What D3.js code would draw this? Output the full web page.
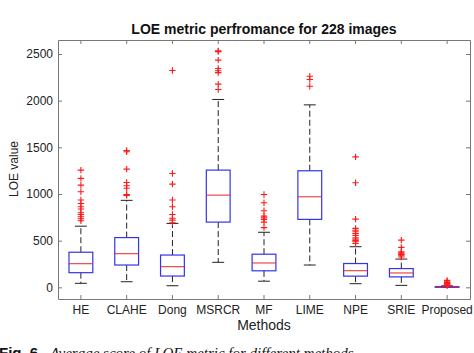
<!DOCTYPE html>
<html>
<head>
<meta charset="utf-8">
<script src="https://cdn.jsdelivr.net/npm/d3@7"></script>
<style>
  body { margin: 0; background: #fff; }
  svg { display: block; }
</style>
</head>
<body>
<div id="wrapper"></div>
<script>
// Box statistics
const methods = ["HE", "CLAHE", "Dong", "MSRCR", "MF", "LIME", "NPE", "SRIE", "Proposed"]
const whiskerLow  = [43, 60, 17, 268, 66, 239, 39, 21, 0]
const q1Values    = [157, 239, 121, 699, 177, 728, 120, 112, 0]
const medians     = [253, 360, 221, 988, 261, 970, 178, 154, 3]
const q3Values    = [376, 533, 346, 1256, 355, 1249, 255, 201, 7]
const whiskerHigh = [655, 932, 685, 2013, 590, 1955, 435, 303, 16]
const outliers = [
    [1256, 1167, 1095, 1024, 935, 899, 863, 840, 799, 780, 756, 735, 713],
    [1466, 1452, 1267, 1124, 1088, 1062, 995, 985],
    [2323, 1220, 1106, 935, 863, 781, 740, 720, 692],
    [2533, 2525, 2434, 2345, 2320, 2300, 2177, 2120],
    [995, 906, 820, 763, 745, 728, 699, 640],
    [2262, 2227, 2155],
    [1398, 1120, 731, 632, 612, 596, 575, 555, 530, 515, 500, 488, 470],
    [506, 428, 381, 370, 360, 350, 338, 325],
    [75, 60, 50, 42, 35, 28, 22, 18]
]
const yTicks = [0, 500, 1000, 1500, 2000, 2500]

const dimensions = {
    width: 474,
    height: 353,
    margin: { top: 40, right: 4, bottom: 54, left: 58 },
}
dimensions.boundedWidth = dimensions.width - dimensions.margin.left - dimensions.margin.right
dimensions.boundedHeight = dimensions.height - dimensions.margin.top - dimensions.margin.bottom

const svg = d3.select("#wrapper")
    .append("svg")
    .attr("width", dimensions.width)
    .attr("height", dimensions.height)
    .style("font-family", "'Liberation Sans', Arial, sans-serif")

const bounds = svg.append("g")
    .attr("transform", `translate(${dimensions.margin.left},${dimensions.margin.top})`)

const xScale = d3.scaleBand()
    .domain(methods)
    .range([0, dimensions.boundedWidth])
    .paddingInner(0)
    .paddingOuter(0)

const yScale = d3.scaleLinear()
    .domain([-125, 2650])
    .range([dimensions.boundedHeight, 0])

const boxWidth = xScale.bandwidth() * 0.52
const cx = m => xScale(m) + xScale.bandwidth() / 2

// Axes (MATLAB style: ticks inside, box all round)
const axisColor = "#777"
const styleAxis = g => {
    g.select(".domain").attr("stroke", axisColor)
    g.selectAll(".tick line").attr("stroke", axisColor)
    g.selectAll(".tick text").attr("fill", "#222").style("font-size", "12px")
}

bounds.append("g")
    .attr("transform", `translate(0,${dimensions.boundedHeight})`)
    .call(d3.axisBottom(xScale).tickSizeInner(-4).tickSizeOuter(0).tickPadding(6.5))
    .call(styleAxis)

bounds.append("g")
    .call(d3.axisTop(xScale).tickSizeInner(-4).tickSizeOuter(0).tickFormat(""))
    .call(styleAxis)

bounds.append("g")
    .call(d3.axisLeft(yScale).tickValues(yTicks).tickFormat(d3.format("d"))
        .tickSizeInner(-4).tickSizeOuter(0).tickPadding(5))
    .call(styleAxis)

bounds.append("g")
    .attr("transform", `translate(${dimensions.boundedWidth},0)`)
    .call(d3.axisRight(yScale).tickValues(yTicks).tickSizeInner(-4).tickSizeOuter(0).tickFormat(""))
    .call(styleAxis)

// Boxes
const groups = bounds.selectAll(".box")
    .data(methods)
    .join("g")
    .attr("class", "box")

// dashed whiskers
groups.append("line")
    .attr("x1", cx).attr("x2", cx)
    .attr("y1", (d, i) => yScale(q3Values[i]))
    .attr("y2", (d, i) => yScale(whiskerHigh[i]))
    .attr("stroke", "#222").attr("stroke-dasharray", "6,3").attr("stroke-width", 1)
groups.append("line")
    .attr("x1", cx).attr("x2", cx)
    .attr("y1", (d, i) => yScale(q1Values[i]))
    .attr("y2", (d, i) => yScale(whiskerLow[i]))
    .attr("stroke", "#222").attr("stroke-dasharray", "6,3").attr("stroke-width", 1)

// caps
;[whiskerHigh, whiskerLow].forEach(arr => {
    groups.append("line")
        .attr("x1", d => cx(d) - boxWidth / 4)
        .attr("x2", d => cx(d) + boxWidth / 4)
        .attr("y1", (d, i) => yScale(arr[i]))
        .attr("y2", (d, i) => yScale(arr[i]))
        .attr("stroke", "#222").attr("stroke-width", 1)
})

groups.append("rect")
    .attr("x", d => cx(d) - boxWidth / 2)
    .attr("width", boxWidth)
    .attr("y", (d, i) => yScale(q3Values[i]))
    .attr("height", (d, i) => Math.max(0.5, yScale(q1Values[i]) - yScale(q3Values[i])))
    .attr("fill", "none")
    .attr("stroke", "#3333ee")
    .attr("stroke-width", 1.2)

groups.append("line")
    .attr("x1", d => cx(d) - boxWidth / 2)
    .attr("x2", d => cx(d) + boxWidth / 2)
    .attr("y1", (d, i) => yScale(medians[i]))
    .attr("y2", (d, i) => yScale(medians[i]))
    .attr("stroke", "#ee2222").attr("stroke-width", 1)

// outliers as red plus signs
const plusSize = 3.2
groups.each(function (d, i) {
    d3.select(this).selectAll(".out")
        .data(outliers[i])
        .join("path")
        .attr("class", "out")
        .attr("d", v => {
            const x = cx(d), y = yScale(v)
            return `M${x - plusSize},${y}H${x + plusSize}M${x},${y - plusSize}V${y + plusSize}`
        })
        .attr("stroke", "#ff1a1a")
        .attr("stroke-width", 1.1)
        .attr("fill", "none")
})

// Labels
svg.append("text")
    .attr("x", dimensions.margin.left + dimensions.boundedWidth / 2)
    .attr("y", 34)
    .attr("text-anchor", "middle")
    .style("font-size", "14px")
    .style("font-weight", "bold")
    .attr("fill", "#111")
    .text("LOE metric perfromance for 228 images")

svg.append("text")
    .attr("x", dimensions.margin.left + dimensions.boundedWidth / 2)
    .attr("y", 330)
    .attr("text-anchor", "middle")
    .style("font-size", "14px")
    .attr("fill", "#222")
    .text("Methods")

svg.append("text")
    .attr("transform", `translate(18,169) rotate(-90)`)
    .attr("text-anchor", "middle")
    .style("font-size", "12px")
    .attr("fill", "#222")
    .text("LOE value")

// Caption, cut off by the bottom edge as in the source figure
const caption = svg.append("text")
    .attr("x", -1)
    .attr("y", 358)
    .attr("fill", "#111")
caption.append("tspan")
    .style("font-size", "15px")
    .style("font-weight", "bold")
    .text("Fig. 6")
caption.append("tspan")
    .attr("dx", 12)
    .style("font-family", "'Liberation Serif', 'Times New Roman', serif")
    .style("font-style", "italic")
    .style("font-size", "15px")
    .text("Average score of LOE metric for different methods")
</script>
</body>
</html>
